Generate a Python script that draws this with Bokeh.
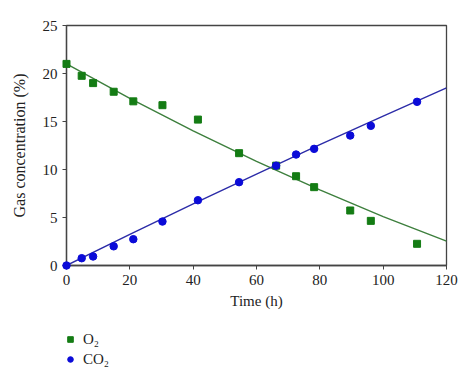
from bokeh.plotting import figure
from bokeh.models import Legend, LegendItem, Range1d, FixedTicker
from bokeh.layouts import column
from bokeh.embed import file_html
from bokeh.resources import INLINE

# Measured data
time_h = [0, 4.8, 8.4, 14.9, 21.1, 30.3, 41.5, 54.5, 66.2, 72.5, 78.2, 89.6, 96.1, 110.7]
o2 = [21.0, 19.76, 19.0, 18.1, 17.1, 16.7, 15.2, 11.7, 10.4, 9.3, 8.16, 5.73, 4.65, 2.26]
co2 = [0.0, 0.76, 0.94, 2.0, 2.74, 4.58, 6.8, 8.68, 10.4, 11.56, 12.15, 13.54, 14.55, 17.05]

# Trend lines
trend_x = [0, 20, 40, 60, 80, 100, 120]
trend_o2 = [21.0, 17.41, 14.03, 10.84, 7.87, 5.10, 2.53]
trend_co2 = [0.0, 3.24, 6.42, 9.53, 12.58, 15.57, 18.5]

x_ticks = [0, 20, 40, 60, 80, 100, 120]
y_ticks = [0, 5, 10, 15, 20, 25]
series_labels = ["O₂", "CO₂"]

FONT = "Liberation Serif"
GREEN_PT = "#147c14"
GREEN_LN = "#3d7f3d"
BLUE_PT = "#0b0bd8"
BLUE_LN = "#2c2ca8"

p = figure(width=466, height=318, output_backend="svg", toolbar_location=None,
           x_range=Range1d(0, 120), y_range=Range1d(0, 25),
           min_border_left=66, min_border_right=20, min_border_top=25, min_border_bottom=53)
p.xgrid.visible = False
p.ygrid.visible = False
p.outline_line_color = "#444444"
p.outline_line_width = 1.3
p.background_fill_color = "white"
p.border_fill_color = "white"

for ax in (p.xaxis[0], p.yaxis[0]):
    ax.axis_line_color = "#444444"
    ax.axis_line_width = 1.3
    ax.major_tick_line_color = "#444444"
    ax.major_tick_in = 0
    ax.major_tick_out = 4
    ax.minor_tick_line_color = None
    ax.major_label_text_font = FONT
    ax.major_label_text_font_size = "15px"
    ax.major_label_text_color = "#222222"
    ax.axis_label_text_font = FONT
    ax.axis_label_text_font_style = "normal"
    ax.axis_label_text_color = "#222222"

p.xaxis.axis_label_text_font_size = "15px"
p.yaxis.axis_label_text_font_size = "16px"
p.xaxis.ticker = FixedTicker(ticks=x_ticks)
p.yaxis.ticker = FixedTicker(ticks=y_ticks)
p.xaxis.axis_label = "Time (h)"
p.yaxis.axis_label = "Gas concentration (%)"
p.xaxis.major_label_standoff = 5
p.yaxis.major_label_standoff = 5
p.xaxis.axis_label_standoff = 5
p.yaxis.axis_label_standoff = 12

p.line(trend_x, trend_o2, line_color=GREEN_LN, line_width=1.4)
p.line(trend_x, trend_co2, line_color=BLUE_LN, line_width=1.4)
p.scatter(time_h, o2, marker="square", size=7, fill_color=GREEN_PT, line_color=GREEN_PT,
          level="overlay")
p.scatter(time_h, co2, marker="circle", size=7.5, fill_color=BLUE_PT, line_color=BLUE_PT,
          level="overlay")

# Legend strip below the chart (legend proxies sit outside the strip's visible range)
p2 = figure(width=466, height=60, output_backend="svg", toolbar_location=None,
            x_range=Range1d(0, 1), y_range=Range1d(0, 1),
            x_axis_location=None, y_axis_location=None,
            min_border=0, min_border_left=0, min_border_right=0,
            min_border_top=0, min_border_bottom=0)
p2.xgrid.visible = False
p2.ygrid.visible = False
p2.outline_line_color = None
p2.background_fill_color = "white"
p2.border_fill_color = "white"
lg_o2 = p2.scatter([-5], [-5], marker="square", size=6, fill_color=GREEN_PT, line_color=GREEN_PT)
lg_co2 = p2.scatter([-5], [-5], marker="circle", size=6, fill_color=BLUE_PT, line_color=BLUE_PT)

legend = Legend(items=[LegendItem(label=series_labels[0], renderers=[lg_o2]),
                       LegendItem(label=series_labels[1], renderers=[lg_co2])],
                location=(-3, 9), orientation="vertical",
                glyph_width=14, glyph_height=14, label_height=20, spacing=0,
                padding=0, margin=0, label_standoff=6,
                label_text_font=FONT, label_text_font_size="15px",
                label_text_color="#222222",
                border_line_color=None, background_fill_alpha=0)
p2.add_layout(legend, "center")

layout = column(p, p2, spacing=0)
open("out.html", "w").write(file_html(layout, INLINE))
